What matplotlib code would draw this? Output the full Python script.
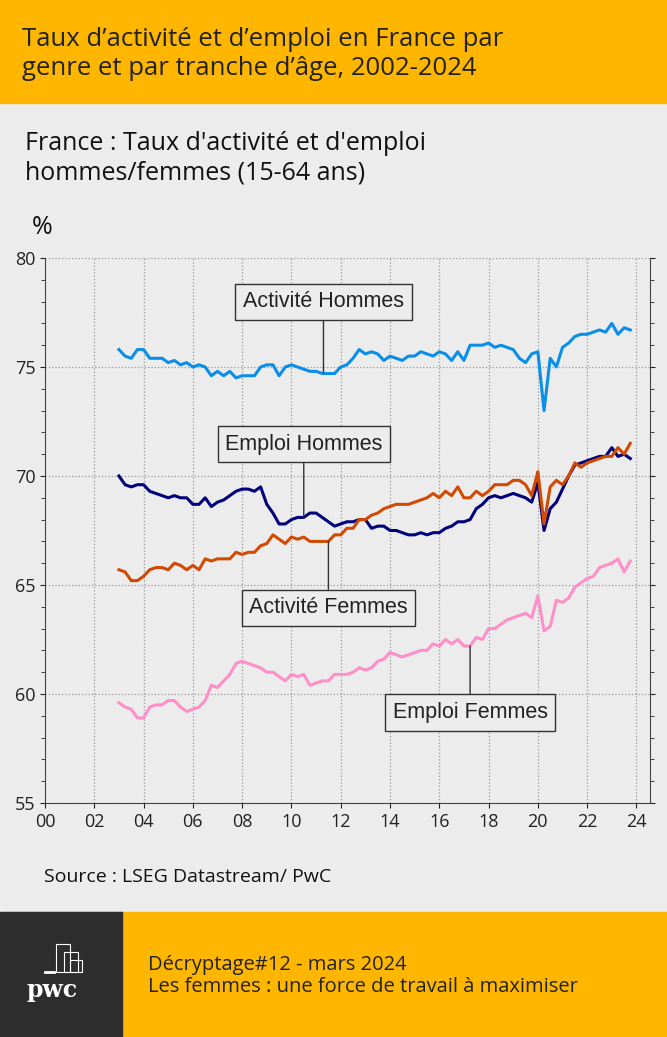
import matplotlib
matplotlib.use("Agg")
import matplotlib.pyplot as plt
import numpy as np
from matplotlib.patches import Rectangle

act_h = [75.8, 75.5, 75.4, 75.8, 75.8, 75.4, 75.4, 75.4, 75.2, 75.3, 75.1, 75.2, 75.0, 75.1, 75.0, 74.6,
         74.8, 74.6, 74.8, 74.5, 74.6, 74.6, 74.6, 75.0, 75.1, 75.1, 74.6, 75.0, 75.1, 75.0, 74.9, 74.8,
         74.8, 74.7, 74.7, 74.7, 75.0, 75.1, 75.4, 75.8, 75.6, 75.7, 75.6, 75.3, 75.5, 75.4, 75.3, 75.5,
         75.5, 75.7, 75.6, 75.5, 75.7, 75.6, 75.3, 75.7, 75.3, 76.0, 76.0, 76.0, 76.1, 75.9, 76.0, 75.9,
         75.8, 75.4, 75.2, 75.6, 75.7, 73.0, 75.4, 75.0, 75.9, 76.1, 76.4, 76.5, 76.5, 76.6, 76.7, 76.6,
         77.0, 76.5, 76.8, 76.7]
emp_h = [70.0, 69.6, 69.5, 69.6, 69.6, 69.3, 69.2, 69.1, 69.0, 69.1, 69.0, 69.0, 68.7, 68.7, 69.0, 68.6,
         68.8, 68.9, 69.1, 69.3, 69.4, 69.4, 69.3, 69.5, 68.7, 68.3, 67.8, 67.8, 68.0, 68.1, 68.1, 68.3,
         68.3, 68.1, 67.9, 67.7, 67.8, 67.9, 67.9, 68.0, 68.0, 67.6, 67.7, 67.7, 67.5, 67.5, 67.4, 67.3,
         67.3, 67.4, 67.3, 67.4, 67.4, 67.6, 67.7, 67.9, 67.9, 68.0, 68.5, 68.7, 69.0, 69.1, 69.0, 69.1,
         69.2, 69.1, 69.0, 68.8, 69.7, 67.5, 68.5, 68.8, 69.4, 70.0, 70.5, 70.6, 70.7, 70.8, 70.9, 70.9,
         71.3, 70.9, 71.0, 70.8]
act_f = [65.7, 65.6, 65.2, 65.2, 65.4, 65.7, 65.8, 65.8, 65.7, 66.0, 65.9, 65.7, 65.9, 65.7, 66.2, 66.1,
         66.2, 66.2, 66.2, 66.5, 66.4, 66.5, 66.5, 66.8, 66.9, 67.3, 67.1, 66.9, 67.2, 67.1, 67.2, 67.0,
         67.0, 67.0, 67.0, 67.3, 67.3, 67.6, 67.6, 68.0, 68.0, 68.2, 68.3, 68.5, 68.6, 68.7, 68.7, 68.7,
         68.8, 68.9, 69.0, 69.2, 69.0, 69.3, 69.1, 69.5, 69.0, 69.0, 69.3, 69.1, 69.3, 69.6, 69.6, 69.6,
         69.8, 69.8, 69.6, 69.1, 70.2, 67.8, 69.5, 69.8, 69.6, 70.0, 70.6, 70.4, 70.6, 70.7, 70.8, 70.9,
         70.9, 71.3, 71.0, 71.5]
emp_f = [59.6, 59.4, 59.3, 58.9, 58.9, 59.4, 59.5, 59.5, 59.7, 59.7, 59.4, 59.2, 59.3, 59.4, 59.7, 60.4,
         60.3, 60.6, 60.9, 61.4, 61.5, 61.4, 61.3, 61.2, 61.0, 61.0, 60.8, 60.6, 60.9, 60.8, 60.9, 60.4,
         60.5, 60.6, 60.6, 60.9, 60.9, 60.9, 61.0, 61.2, 61.1, 61.2, 61.5, 61.6, 61.9, 61.8, 61.7, 61.8,
         61.9, 62.0, 62.0, 62.3, 62.2, 62.5, 62.3, 62.5, 62.2, 62.2, 62.6, 62.5, 63.0, 63.0, 63.2, 63.4,
         63.5, 63.6, 63.7, 63.5, 64.5, 62.9, 63.1, 64.3, 64.2, 64.4, 64.9, 65.1, 65.3, 65.4, 65.8, 65.9,
         66.0, 66.2, 65.6, 66.1]
years = 2003 + np.arange(len(act_h)) / 4
tick_years = list(range(2000, 2025, 2))
tick_labels = [f"{y % 100:02d}" for y in tick_years]

FONT = ["Open Sans", "DejaVu Sans"]
ORANGE = "#FFB600"
BG = "#ECECEC"

fig = plt.figure(figsize=(6.67, 10.37), dpi=100, facecolor=BG)
W, H = 667, 1037

def px(x, y, w, h):
    return [x / W, 1 - (y + h) / H, w / W, h / H]

# header / footer bands
bg = fig.add_axes([0, 0, 1, 1]); bg.set_xlim(0, W); bg.set_ylim(H, 0); bg.axis("off")
bg.add_patch(Rectangle((0, 0), W, 103, color=ORANGE))
bg.add_patch(Rectangle((0, 912), W, 125, color=ORANGE))
bg.add_patch(Rectangle((0, 912), 122, 125, color="#2D2D2D"))
bg.text(22, 54, "Taux d’activité et d’emploi en France par\ngenre et par tranche d’âge, 2002-2024",
        fontsize=18.5, va="center", family=FONT, color="#222", linespacing=1.2)
bg.text(25, 158, "France : Taux d'activité et d'emploi\nhommes/femmes (15-64 ans)",
        fontsize=18, va="center", family=FONT, color="#111", linespacing=1.25)
bg.text(32, 228, "%", fontsize=18, va="center", family=FONT, color="#111")
bg.text(44, 877, "Source : LSEG Datastream/ PwC", fontsize=14, va="center", family=FONT, color="#111")
bg.text(148, 976, "Décryptage#12 - mars 2024\nLes femmes : une force de travail à maximiser",
        fontsize=14.5, va="center", family=FONT, color="#222", linespacing=1.1)
bg.text(52, 990, "pwc", fontsize=17, va="center", ha="center", family="DejaVu Serif",
        weight="bold", color="white")
for rx, ry, rw, rh in [(56, 944, 14, 28), (64, 952, 14, 20), (70, 960, 12, 12)]:
    bg.add_patch(Rectangle((rx, ry), rw, rh, fill=False, ec="white", lw=0.8))
bg.plot([45, 54], [972, 972], color="white", lw=2)

ax = fig.add_axes(px(45, 258, 605, 545), facecolor=BG)
ax.plot(years, act_h, color="#0A8FE8", lw=2.2)
ax.plot(years, emp_h, color="#00007A", lw=2.2)
ax.plot(years, act_f, color="#D04A02", lw=2.2)
ax.plot(years, emp_f, color="#FF8FC8", lw=2.2)
ax.set_xlim(2000, 2024.55); ax.set_ylim(55, 80)
ax.set_xticks(tick_years); ax.set_xticklabels(tick_labels)
ax.set_yticks(range(55, 81, 5)); ax.set_yticks(range(55, 81), minor=True)
ax.grid(True, which="major", color="#999", ls=":", lw=0.9)
ax.tick_params(labelsize=13, colors="#222", direction="out", right=True, which="both")
ax.tick_params(axis="y", which="minor", length=3)
for lab in ax.get_xticklabels() + ax.get_yticklabels():
    lab.set_family(FONT)
ax.spines["top"].set_visible(False)
for s in ["left", "right", "bottom"]:
    ax.spines[s].set_color("#444")

box = dict(boxstyle="square,pad=0.35", fc=BG, ec="#333", lw=1)
def callout(label, tx, ty, xx, yy):
    ax.annotate(label, xy=(xx, yy), xytext=(tx, ty), fontsize=15.5, ha="center", va="center",
                family=["Liberation Sans", "DejaVu Sans"], color="#222", bbox=box,
                arrowprops=dict(arrowstyle="-", color="#333", lw=1, shrinkA=0, shrinkB=0))
callout("Activité Hommes", 2011.3, 78.0, 2011.3, 74.75)
callout("Emploi Hommes", 2010.5, 71.45, 2010.5, 68.1)
callout("Activité Femmes", 2011.5, 63.95, 2011.5, 67.0)
callout("Emploi Femmes", 2017.25, 59.15, 2017.25, 62.2)

fig.savefig("out.png", dpi=100, facecolor=BG)
